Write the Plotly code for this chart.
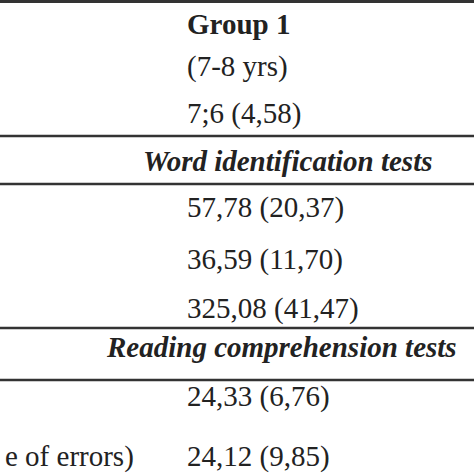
import plotly.graph_objects as go

# Table content (cropped view of a results table)
group_header = "Group 1"
age_range = "(7-8 yrs)"
mean_age = "7;6 (4,58)"
section_titles = ["Word identification tests", "Reading comprehension tests"]
word_id_values = ["57,78 (20,37)", "36,59 (11,70)", "325,08 (41,47)"]
reading_values = ["24,33 (6,76)", "24,12 (9,85)"]
row_label_fragment = "e of errors)"

W, H = 474, 474
FONT = "Liberation Serif"
INK = "#222222"
SIZE = 29

fig = go.Figure()
fig.add_trace(go.Scatter(x=[0, W], y=[0, H], mode="markers",
                         marker=dict(opacity=0), hoverinfo="skip"))

# left-aligned column cells: (text, y)
col_x = 185
cells = [(f"<b>{group_header}</b>", 24), (age_range, 66), (mean_age, 113)]
cells += list(zip(word_id_values, [207, 259, 308]))
cells += list(zip(reading_values, [396, 456]))

annotations = []
for text, y in cells:
    annotations.append(dict(x=col_x, y=y, text=text, xanchor="left", yanchor="middle",
                            showarrow=False, font=dict(family=FONT, size=SIZE, color=INK)))

for text, xc, y in zip(section_titles, [287, 281], [161, 347]):
    annotations.append(dict(x=xc, y=y, text=f"<b><i>{text}</i></b>", xanchor="center",
                            yanchor="middle", showarrow=False,
                            font=dict(family=FONT, size=SIZE, color=INK)))

annotations.append(dict(x=136, y=456, text=row_label_fragment, xanchor="right",
                        yanchor="middle", showarrow=False,
                        font=dict(family=FONT, size=SIZE, color=INK)))

# horizontal rules
shapes = []
for y, w in [(1.5, 3), (136, 2.5), (184, 2.5), (328, 2.5), (380, 2.5)]:
    shapes.append(dict(type="line", x0=0, x1=W, y0=y, y1=y,
                       line=dict(color="#333333", width=w)))

fig.update_layout(
    width=W, height=H,
    margin=dict(l=0, r=0, t=0, b=0),
    paper_bgcolor="white", plot_bgcolor="white",
    showlegend=False,
    xaxis=dict(range=[0, W], visible=False, fixedrange=True),
    yaxis=dict(range=[H, 0], visible=False, fixedrange=True),
    annotations=annotations, shapes=shapes,
)

fig.write_html("out.html", config={"displayModeBar": False},
               post_script="document.body.style.margin='0';document.body.style.overflow='hidden';")
